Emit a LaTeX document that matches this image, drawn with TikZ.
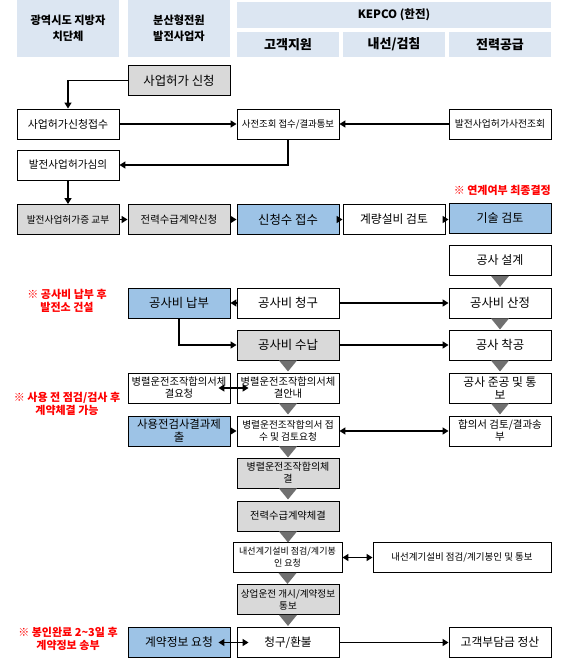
\documentclass[tikz,border=0pt]{standalone}
\usepackage{fontspec}
\setmainfont{Noto Sans CJK KR}
\usetikzlibrary{arrows.meta,calc}
\definecolor{hdrfill}{RGB}{220,230,242}
\definecolor{grayfill}{RGB}{217,217,217}
\definecolor{bluefill}{RGB}{157,195,230}
\definecolor{trifill}{RGB}{112,112,112}
\definecolor{notered}{RGB}{255,0,0}
\newcommand{\fz}[2]{\fontsize{#1}{#2}\selectfont}
\newcommand{\dtri}[1]{\fill[trifill] ($(#1.south)+(-9,0)$) -- ($(#1.south)+(9,0)$) -- ($(#1.south)+(0,11)$) -- cycle;}
\tikzset{
  box/.style={draw=black, line width=0.9pt, minimum width=102pt, minimum height=30pt, inner sep=1pt, align=center, fill=white, font=\fz{12.4}{13}},
  gbox/.style={box, fill=grayfill},
  bbox/.style={box, fill=bluefill},
  hdr/.style={fill=hdrfill, minimum width=102pt, inner sep=1pt, align=center, font=\bfseries\fz{11.2}{16}},
  arr/.style={line width=1.8pt, -{Triangle[length=6pt,width=7pt]}},
  darr/.style={line width=1.8pt, {Triangle[length=6pt,width=7pt]}-{Triangle[length=6pt,width=7pt]}},
  note/.style={text=notered, align=center, inner sep=0pt, font=\bfseries\fz{11}{13}}
}
\begin{document}
\begin{tikzpicture}[x=1pt,y=-1pt]
\useasboundingbox[fill=white] (0,0) rectangle (563,660);
% headers
\node[hdr, minimum height=57pt] (hA) at (68,28.5) {광역시도 지방자\\치단체};
\node[hdr, minimum height=57pt] (hB) at (179,28.5) {분산형전원\\발전사업자};
\node[hdr, minimum width=314pt, minimum height=26pt, font=\bfseries\fz{11.5}{16}] (hC) at (394,15) {KEPCO (한전)};
\node[hdr, minimum height=25pt, font=\bfseries\fz{13}{16}] (hD) at (288,44.5) {고객지원};
\node[hdr, minimum height=25pt, font=\bfseries\fz{13}{16}] (hE) at (394,44.5) {내선/검침};
\node[hdr, minimum height=25pt, font=\bfseries\fz{13}{16}] (hF) at (500,44.5) {전력공급};
% rows
\node[gbox] (s1) at (179,80.5) {사업허가 신청};
\node[box, font=\fz{10.9}{12}] (a1) at (68,124) {사업허가신청접수};
\node[box, font=\fz{9.4}{12}] (a2) at (288,124) {사전조회 접수/결과통보};
\node[box, font=\fz{9.8}{12}] (a3) at (500,124) {발전사업허가사전조회};
\node[box, font=\fz{10.6}{12}] (a4) at (68,165) {발전사업허가심의};
\node[gbox, font=\fz{9.7}{12}] (b1) at (68,219.5) {발전사업허가증 교부};
\node[gbox, font=\fz{10.4}{12}] (b2) at (179,219.5) {전력수급계약신청};
\node[bbox] (b3) at (288,219.5) {신청수 접수};
\node[box, font=\fz{11.8}{13}] (b4) at (394,219.5) {계량설비 검토};
\node[bbox, font=\fz{12}{13}] (b5) at (500,218.5) {기술 검토};
\node[note, anchor=east] (n1) at (551,190) {※ 연계여부 최종결정};
\node[box, font=\fz{12}{13}] (c1) at (500,260.5) {공사 설계};
\node[bbox] (d1) at (179,303) {공사비 납부};
\node[box] (d2) at (288,303) {공사비 청구};
\node[box] (d3) at (500,303) {공사비 산정};
\node[note] (n2) at (67,300.5) {※ 공사비 납부 후\\발전소 건설};
\node[gbox] (e1) at (288,345) {공사비 수납};
\node[box] (e2) at (500,345) {공사 착공};
\node[box, font=\fz{10.3}{12}] (f1) at (179,388) {병렬운전조작합의서체\\결요청};
\node[box, font=\fz{10.3}{12}] (f2) at (288,388) {병렬운전조작합의서체\\결안내};
\node[box, font=\fz{11.8}{13}] (f3) at (500,388) {공사 준공 및 통\\보};
\node[note] (n3) at (67,403.5) {※ 사용 전 점검/검사 후\\계약체결 가능};
\node[bbox, font=\fz{11.4}{13}] (g1) at (179,431) {사용전검사결과제\\출};
\node[box, font=\fz{9.7}{12}] (g2) at (288,431) {병렬운전조작합의서 접\\수 및 검토요청};
\node[box, font=\fz{10.5}{12}] (g3) at (500,431) {합의서 검토/결과송\\부};
\node[gbox, font=\fz{10}{12}] (h1) at (288,473) {병렬운전조작합의체\\결};
\node[gbox, font=\fz{10.3}{12}] (i1) at (288,516) {전력수급계약체결};
\node[box, minimum width=109pt, font=\fz{9}{12}] (j1) at (287.5,557.5) {내선계기설비 점검/계기봉\\인 요청};
\node[box, minimum width=178pt, font=\fz{9.5}{12}] (j2) at (462,557.5) {내선계기설비 점검/계기봉인 및 통보};
\node[gbox, font=\fz{9.6}{12}] (k1) at (288,599.5) {상업운전 개시/계약정보\\통보};
\node[bbox, font=\fz{11.8}{13}] (l1) at (179,642.5) {계약정보 요청};
\node[box, font=\fz{11.6}{13}] (l2) at (288,642.5) {청구/환불};
\node[box, font=\fz{11.8}{13}] (l3) at (500,642.5) {고객부담금 정산};
\node[note] (n4) at (68,639) {※ 봉인완료 2\textasciitilde3일 후\\계약정보 송부};
% connectors
\draw[arr] (s1.west) -| (a1.north);
\draw[arr] (a1.east) -- (a2.west);
\draw[arr] (a3.west) -- (a2.east);
\draw[arr] (a2.south) |- (a4.east);
\draw[arr] (a4.south) -- (b1.north);
\draw[arr] (b1.east) -- (b2.west);
\draw[arr] (b2.east) -- (b3.west);
\draw[arr] (b3.east) -- (b4.west);
\draw[arr] (b4.east) -- (b4.east -| b5.west);
\draw[arr] (d2.west) -- (d1.east);
\draw[arr] (d2.east) -- (d3.west);
\draw[arr] (d1.south) |- (e1.west);
\draw[arr] (e1.east) -- (e2.west);
\draw[darr, shorten <=-12pt, shorten >=-12pt] (f1.east) -- (f2.west);
\draw[arr] (g1.east) -- (g2.west);
\draw[darr] (g2.east) -- (g3.west);
\draw[darr] (j1.east) -- (j2.west);
\draw[darr, shorten <=-12pt, shorten >=-12pt] (l1.east) -- (l2.west);
\draw[arr] (l2.east) -- (l3.west);
% flow triangles
\dtri{c1}
\dtri{d3}
\dtri{e2}
\dtri{f3}
\dtri{e1}
\dtri{f2}
\dtri{g2}
\dtri{h1}
\dtri{i1}
\dtri{j1}
\dtri{k1}
\end{tikzpicture}
\end{document}
